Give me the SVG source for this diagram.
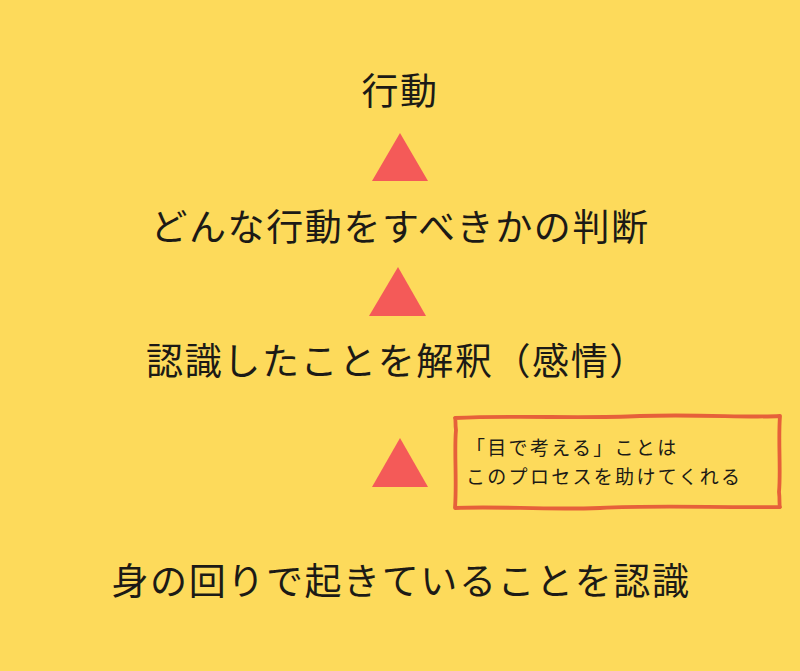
<svg xmlns="http://www.w3.org/2000/svg" width="800" height="671" viewBox="0 0 800 671">
<style>
.main{font-family:"Noto Sans CJK JP","Noto Sans CJK SC",sans-serif;font-size:37px;fill:#1c1a16;text-anchor:middle;letter-spacing:1.6px}
.note{font-family:"Noto Sans CJK JP","Noto Sans CJK SC",sans-serif;font-size:19px;fill:#1c1a16;letter-spacing:2.3px}
.tri{fill:#F45A58}
.box{fill:none;stroke:#E6603A;stroke-width:3.8;stroke-linejoin:round;stroke-linecap:round}
</style>
<rect width="800" height="671" fill="#FDDA5B"/>
<g id="connectors">
<polygon class="tri" points="400,133 372,181 428,181"/>
<polygon class="tri" points="398,267 369,316 426,316"/>
<polygon class="tri" points="400,438 372,487 428,487"/>
</g>
<g id="node-action"><text class="main" x="400" y="105">行動</text></g>
<g id="node-judge"><text class="main" x="400" y="241">どんな行動をすべきかの判断</text></g>
<g id="node-interpret"><text class="main" x="397" y="375">認識したことを解釈（感情）</text></g>
<g id="node-perceive"><text class="main" x="401" y="595">身の回りで起きていることを認識</text></g>
<g id="node-note">
<path class="box" d="M455,418 C520,415 580,419 640,416 C700,414 750,418 780,416 C778,440 781,470 779,492 C780,500 779,505 780,507 C720,508 660,505 600,508 C540,510 500,506 455,508 C457,480 454,450 456,430 C455,424 456,420 455,418 Z"/>
<text class="note" x="466" y="455">「目で考える」ことは</text>
<text class="note" x="466" y="484">このプロセスを助けてくれる</text>
</g>
</svg>
